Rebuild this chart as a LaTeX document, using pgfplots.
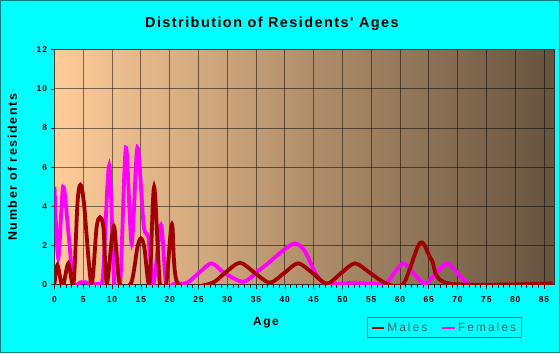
\documentclass[border=0pt]{standalone}
\usepackage{fontspec}
\setmainfont{Liberation Sans}
\newfontfamily\titlef[LetterSpace=10]{Liberation Sans}
\newfontfamily\labf[LetterSpace=13]{Liberation Sans}
\newfontfamily\tickf[LetterSpace=10]{Liberation Sans}
\newfontfamily\legf[LetterSpace=17]{Liberation Sans}
\usepackage{pgfplots}
\pgfplotsset{compat=1.18}
\definecolor{bgc}{HTML}{00FFFF}
\definecolor{frame}{HTML}{0A8080}
\definecolor{peach}{HTML}{FFCC99}
\definecolor{dbrown}{HTML}{65533E}
\definecolor{males}{HTML}{A00000}
\definecolor{females}{HTML}{FF00FF}
\definecolor{legtext}{HTML}{2A6464}
\begin{document}
\begin{tikzpicture}[x=1bp,y=1bp]
\useasboundingbox (0,0) rectangle (560,353);
\draw[fill=bgc, draw=frame, line width=1.2bp] (0.6,0.6) rectangle (559.4,352.4);
\begin{axis}[
  at={(54.5bp,68.3bp)}, anchor=south west,
  scale only axis, width=499.8bp, height=235bp,
  xmin=0, xmax=86.8, ymin=0, ymax=12,
  xtick={0,5,...,85}, ytick={0,2,...,12},
  minor x tick num=4,
  grid=major,
  major grid style={black, opacity=0.5, line width=0.8bp},
  axis line style={draw=black!80, line width=0.8bp},
  tick align=outside, tick pos=left,
  major tick length=4bp, minor tick length=3.5bp,
  every tick/.style={black!85!teal, line width=0.6bp},
  /pgf/number format/assume math mode=true,
  ticklabel style={font=\tickf\bfseries\fontsize{8.5}{10}\selectfont},
  xticklabel style={yshift=-4bp},
  axis background/.style={shade, left color=peach, right color=dbrown},
  clip=true,
  every axis title shift=0pt,
  title={Distribution of Residents' Ages},
  title style={at={(axis description cs:0.435,1.11)}, anchor=center, font=\titlef\bfseries\fontsize{14.5}{16}\selectfont},
  xlabel={Age},
  xlabel style={at={(axis description cs:0.423,-0.163)}, anchor=center, font=\labf\bfseries\fontsize{12}{14}\selectfont},
  ylabel={Number of residents},
  ylabel style={at={(axis description cs:-0.0844,0.5)}, anchor=center, rotate=0, font=\labf\bfseries\fontsize{12.5}{14}\selectfont},
  legend columns=2,
  legend style={at={(axis description cs:0.780,-0.183)}, anchor=center, draw=frame, line width=0.8bp, fill=bgc,
    font=\legf\fontsize{12}{14}\selectfont, text=legtext, inner xsep=3bp, inner ysep=3bp,
    nodes={inner sep=2bp},
    /tikz/every even column/.append style={column sep=12bp}},
  legend image code/.code={\draw[#1, line width=2.2bp] (0bp,0bp) -- (12.5bp,0bp);},
]
\addplot[females, line width=3.8bp, smooth, tension=0.5, forget plot] coordinates {
(0,5.0) (0.65,1.35) (1.5,5.0) (2.4,2.7) (3.3,0.1) (4.5,0.12) (5.5,0.12) (6.5,0.05) (7.6,0.05)
(8.4,0.4) (9.5,6.1) (10.4,0.05) (11.4,0.05) (12.4,7.0) (13.4,2.1) (14.4,7.0) (15.5,3.0) (16.3,2.4)
(17.2,0.1) (18.5,3.05) (19.4,0.05) (21,0.08) (23,0.1) (25.3,0.66) (27.3,1.09) (29.5,0.6)
(32.8,0.15) (35.2,0.66) (37.4,1.17) (39.5,1.7) (41.75,2.11) (43.5,1.7) (45.3,0.6) (47,0.05)
(50,0.05) (52,0.1) (55,0.05) (57.5,0.05) (59,0.6) (60.6,1.09) (62.3,0.6) (64.3,0.05) (66.3,0.6)
(68.2,1.09) (70,0.6) (72,0.02) (75,0.0)
};
\addplot[males, line width=3.8bp, smooth, tension=0.5] coordinates {
(0,0.05) (0.5,1.0) (1.2,0.05) (1.6,0.05) (2.4,1.09) (3.3,0.05) (4.0,4.2) (4.5,5.1) (5.1,4.2) (6.4,0.05)
(7.3,2.9) (7.9,3.44) (8.5,2.9)
(9.1,0.05) (10.3,3.0) (11.3,0.05) (13.3,0.08) (14.4,1.9) (15,2.37) (15.6,1.9) (16.5,0.05) (17.3,5.0) (18.3,0.05)
(19.4,0.05) (20.4,3.08) (21.4,0.05) (27,0.05) (29.6,0.6) (32.2,1.12) (34.8,0.6) (37.4,0.1)
(39.9,0.6) (42.3,1.09) (44.8,0.6) (47.3,0.05) (49.8,0.6) (52.2,1.09) (54.8,0.6) (57.7,0.05)
(60.6,0.05) (63.5,2.14) (65.5,1.26) (68.4,0.07) (86.5,0.07)
};
\addlegendentry{Males}
\addlegendimage{females, line width=3bp}
\addlegendentry{Females}
\end{axis}
\end{tikzpicture}
\end{document}
